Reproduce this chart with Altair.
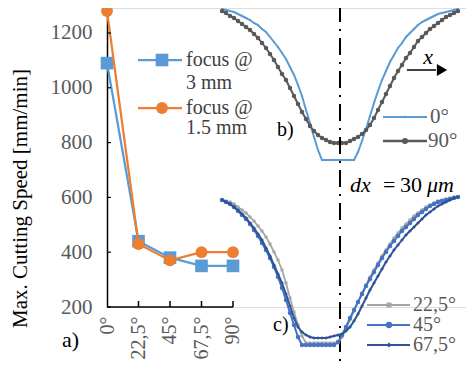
import altair as alt
import pandas as pd

FONT = "'Liberation Serif', 'Times New Roman', 'DejaVu Serif', serif"

# ---------------- main chart a) ----------------
angles = [0, 22.5, 45, 67.5, 90]
angle_labels = ["0°", "22,5°", "45°", "67,5°", "90°"]
speed_focus_3mm = [1090, 440, 380, 350, 350]
speed_focus_1_5mm = [1280, 430, 370, 400, 400]
y_ticks = [200, 400, 600, 800, 1000, 1200]

# ---------------- inset profiles (dx = 30 µm sampling) ----------------
x_um = list(range(0, 1800, 30))
# b) depth [µm]
depth_b_0 = [0, 10, 20, 30, 50, 70, 90, 110, 140, 160, 200, 230, 280, 330, 380, 440, 500, 580, 660, 760,
             870, 1010, 1140, 1280, 1410, 1510, 1510, 1510, 1510, 1510,
             1510, 1510, 1510, 1510, 1430, 1320, 1200, 1070, 940, 820, 710, 620, 530, 460, 390, 340,
             280, 240, 200, 160, 130, 110, 90, 70, 50, 40, 30, 20, 10, 0]
depth_b_90 = [20, 40, 70, 90, 120, 150, 180, 210, 250, 290, 340, 390, 450, 510, 580, 650, 710, 790, 870, 950,
              1030, 1100, 1170, 1220, 1260, 1290, 1310, 1330, 1340, 1340,
              1340, 1340, 1320, 1300, 1280, 1250, 1210, 1160, 1090, 1010, 930, 850, 770, 690, 620, 560,
              490, 440, 380, 320, 280, 240, 200, 170, 140, 110, 80, 60, 40, 20]
# c) depth [µm]
depth_c_225 = [30, 40, 50, 70, 100, 130, 160, 200, 240, 290, 340, 400, 470, 550, 630, 730, 860, 1010, 1150, 1280,
               1390, 1460, 1460, 1460, 1460, 1460, 1460, 1460, 1460, 1460,
               1400, 1320, 1230, 1140, 1050, 960, 880, 800, 730, 660, 590, 530, 470, 410, 360, 310,
               270, 230, 190, 160, 130, 100, 80, 60, 40, 30, 20, 10, 0, 0]
depth_c_45 = [30, 50, 70, 100, 140, 180, 220, 270, 330, 390, 460, 530, 610, 700, 800, 910, 1030, 1160, 1280, 1400,
              1480, 1480, 1480, 1480, 1480, 1480, 1480, 1480, 1480, 1450,
              1380, 1300, 1210, 1130, 1050, 970, 890, 820, 750, 680, 610, 550, 490, 440, 390, 340,
              300, 260, 220, 180, 150, 120, 90, 70, 50, 40, 30, 20, 10, 0]
depth_c_675 = [30, 50, 70, 100, 130, 170, 210, 260, 310, 370, 430, 510, 590, 680, 770, 860, 970, 1090, 1210, 1300,
               1350, 1380, 1400, 1410, 1410, 1410, 1410, 1400, 1390, 1380,
               1370, 1340, 1300, 1240, 1170, 1090, 1010, 930, 860, 790, 720, 650, 590, 530, 480, 430,
               380, 340, 300, 260, 220, 180, 150, 120, 90, 70, 50, 30, 10, 0]
center_um = [885]

BLUE = "#5b9bd5"
ORANGE = "#ed7d31"
DGREY = "#595959"
LGREY = "#a5a5a5"
BLUE45 = "#4472c4"
DBLUE = "#2f5597"
TXT = "#595959"

# ---------------- main layer ----------------
label_expr = " : ".join(f"datum.value == {a} ? '{l}'" for a, l in zip(angles, angle_labels)) + " : ''"

x_main = alt.X("angle:Q",
               scale=alt.Scale(domain=[0, 256.43], nice=False, zero=False),
               axis=alt.Axis(values=angles, labelExpr=label_expr, labelAngle=270, domain=False,
                             ticks=False, grid=False, labelPadding=9, labelFont=FONT,
                             labelFontSize=20, labelColor=TXT, title=None))
y_main = alt.Y("speed:Q",
               scale=alt.Scale(domain=[200, 1291.2], nice=False, zero=False),
               axis=alt.Axis(values=y_ticks, format="d", domain=True, domainColor="black", domainWidth=1.5,
                             ticks=False, grid=False, labelPadding=15, labelFont=FONT,
                             labelFontSize=21, labelColor=TXT,
                             title="Max. Cutting Speed [mm/min]", titleFont=FONT,
                             titleFontSize=21, titleFontWeight="normal", titleColor="black",
                             titleAngle=270, titleX=-87, titleY=190, titleAlign="center",
                             titleBaseline="middle"))

df3 = pd.DataFrame({"angle": angles, "speed": speed_focus_3mm})
df15 = pd.DataFrame({"angle": angles, "speed": speed_focus_1_5mm})
axis_df = pd.DataFrame({"angle": [angles[0]], "angle2": [angles[-1]], "speed": [y_ticks[0]]})
xt_df = pd.DataFrame({"angle": angles[1:], "speed": [y_ticks[0]] * (len(angles) - 1)})
yt_df = pd.DataFrame({"angle": [angles[0]] * len(y_ticks), "speed": y_ticks})

x_axis_line = alt.Chart(axis_df).mark_rule(color="black", strokeWidth=1.5).encode(
    x=x_main, x2="angle2:Q", y=y_main)
x_tick_marks = alt.Chart(xt_df).mark_rule(color="black", strokeWidth=1.5).encode(
    x=x_main, y=y_main, y2=alt.value(293))
y_tick_marks = alt.Chart(yt_df).mark_rule(color="black", strokeWidth=1.2).encode(
    x=x_main, x2=alt.value(4), y=y_main)
blue_line = alt.Chart(df3).mark_line(color=BLUE, strokeWidth=2.25).encode(x=x_main, y=y_main)
blue_pts = alt.Chart(df3).mark_point(shape="square", filled=True, size=160, color=BLUE, opacity=1).encode(
    x=x_main, y=y_main)
orange_line = alt.Chart(df15).mark_line(color=ORANGE, strokeWidth=2.25).encode(x=x_main, y=y_main)
orange_pts = alt.Chart(df15).mark_point(shape="circle", filled=True, size=140, color=ORANGE, opacity=1).encode(
    x=x_main, y=y_main)

main = alt.layer(blue_line, blue_pts, orange_line, orange_pts, x_axis_line, x_tick_marks, y_tick_marks)

# ---------------- inset b ----------------
x_inset = alt.X("x_um:Q", scale=alt.Scale(domain=[-862.5, 1830], nice=False, zero=False), axis=None)
y_b = alt.Y("depth:Q", scale=alt.Scale(domain=[-10, 2980], reverse=True, nice=False, zero=False), axis=None)
y_c = alt.Y("depth:Q", scale=alt.Scale(domain=[-1890, 1100], reverse=True, nice=False, zero=False), axis=None)

b0 = pd.DataFrame({"x_um": x_um, "depth": depth_b_0})
b90 = pd.DataFrame({"x_um": x_um, "depth": depth_b_90})
cdf = pd.DataFrame({"x_um": center_um})

inset_b = alt.layer(
    alt.Chart(b0).mark_line(color=BLUE, strokeWidth=2).encode(x=x_inset, y=y_b),
    alt.Chart(b0).mark_point(shape="diamond", filled=True, size=6, color=BLUE, opacity=1).encode(x=x_inset, y=y_b),
    alt.Chart(b90).mark_line(color=DGREY, strokeWidth=2).encode(x=x_inset, y=y_b),
    alt.Chart(b90).mark_point(shape="circle", filled=True, size=20, color=DGREY, opacity=1).encode(x=x_inset, y=y_b),
    alt.Chart(cdf).mark_rule(color="black", strokeWidth=2, strokeDash=[17, 7, 2, 7]).encode(
        x=x_inset, y=alt.value(-3), y2=alt.value(357)),
)

# ---------------- inset c ----------------
c225 = pd.DataFrame({"x_um": x_um, "depth": depth_c_225})
c45 = pd.DataFrame({"x_um": x_um, "depth": depth_c_45})
c675 = pd.DataFrame({"x_um": x_um, "depth": depth_c_675})

inset_c = alt.layer(
    alt.Chart(c225).mark_line(color=LGREY, strokeWidth=1.75).encode(x=x_inset, y=y_c),
    alt.Chart(c225).mark_point(shape="square", filled=True, size=9, color=LGREY, opacity=1).encode(x=x_inset, y=y_c),
    alt.Chart(c45).mark_line(color=BLUE45, strokeWidth=2).encode(x=x_inset, y=y_c),
    alt.Chart(c45).mark_point(shape="circle", filled=True, size=20, color=BLUE45, opacity=1).encode(x=x_inset, y=y_c),
    alt.Chart(c675).mark_line(color=DBLUE, strokeWidth=2).encode(x=x_inset, y=y_c),
    alt.Chart(c675).mark_point(shape="diamond", filled=True, size=14, color=DBLUE, opacity=1).encode(x=x_inset, y=y_c),
)

# ---------------- decorations (legends, labels) ----------------
one = pd.DataFrame({"k": [0]})


def txt(text, x, y, size, color, align="left", style="normal"):
    return alt.Chart(one).mark_text(text=text, font=FONT, fontSize=size, color=color, align=align,
                                    baseline="middle", fontStyle=style).encode(
        x=alt.value(x), y=alt.value(y))


def seg(x1, x2, y, color, width):
    return alt.Chart(one).mark_rule(color=color, strokeWidth=width).encode(
        x=alt.value(x1), x2=alt.value(x2), y=alt.value(y))


def sym(x, y, shape, size, color):
    return alt.Chart(one).mark_point(shape=shape, filled=True, size=size, color=color, opacity=1).encode(
        x=alt.value(x), y=alt.value(y))


deco = alt.layer(
    # legend a)
    seg(31, 75, 52, BLUE, 2.25), sym(55, 52, "square", 160, BLUE),
    txt("focus @", 79, 52, 20, "#404040"), txt("3 mm", 79, 75, 20, "#404040"),
    seg(31, 75, 100, ORANGE, 2.25), sym(55, 100, "circle", 140, ORANGE),
    txt("focus @", 79, 100, 20, "#404040"), txt("1.5 mm", 79, 120, 20, "#404040"),
    # panel labels
    txt("a)", -45, 332, 22, "black"),
    txt("b)", 170, 122, 20, "black"),
    txt("c)", 166, 317, 20, "black"),
    # legend b)
    seg(276, 320, 109, BLUE, 2), sym(298, 109, "diamond", 10, BLUE), txt("0°", 323, 109, 21, TXT),
    seg(276, 320, 133, DGREY, 2.5), sym(298, 133, "circle", 36, DGREY), txt("90°", 321, 133, 21, TXT),
    # legend c)
    seg(260, 303, 297, LGREY, 2), sym(282, 297, "square", 25, LGREY), txt("22,5°", 306, 297, 20, TXT),
    seg(260, 303, 317, BLUE45, 2), sym(282, 317, "circle", 40, BLUE45), txt("45°", 306, 317, 20, TXT),
    seg(260, 303, 337, DBLUE, 2), sym(282, 337, "diamond", 25, DBLUE), txt("67,5°", 306, 337, 20, TXT),
    # x arrow
    seg(300, 329, 62, "black", 1.5), sym(335, 62, "triangle-right", 140, "black"),
    txt("x", 321, 49, 22, "black", align="center", style="italic"),
    # dx = 30 µm
    txt("dx", 243, 177, 22, "black", style="italic"),
    txt("=", 276, 177, 22, "black"),
    txt("30", 293, 177, 22, "black"),
    txt("μm", 320, 177, 22, "black", style="italic"),
)

chart = alt.layer(main, inset_b, inset_c, deco).resolve_scale(
    x="independent", y="independent"
).properties(
    width=359, height=299,
    autosize=alt.AutoSizeParams(type="none"),
    padding={"left": 99, "top": 0, "right": 0, "bottom": 54},
).configure_view(stroke=None).configure(background="white")

chart.save("out.html", embed_options={"renderer": "svg", "actions": False})
